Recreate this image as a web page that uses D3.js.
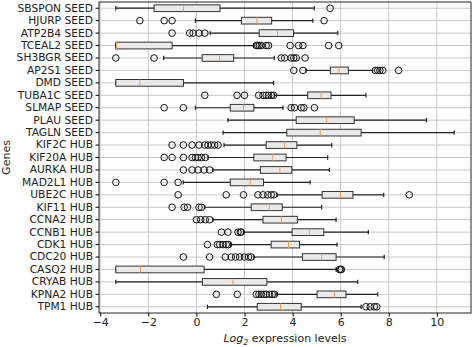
<!DOCTYPE html>
<html>
<head>
<meta charset="utf-8">
<script src="https://cdn.jsdelivr.net/npm/d3@7"></script>
<style>
  body { margin: 0; background: #fff; }
  svg text { font-family: "DejaVu Sans", sans-serif; fill: #222; }
</style>
</head>
<body>
<script>
var w = 474;
var h = 347;
var plotL = 99, plotR = 471, plotT = 2, plotB = 313;

var genes = ["SBSPON SEED", "HJURP SEED", "ATP2B4 SEED", "TCEAL2 SEED", "SH3BGR SEED",
  "AP2S1 SEED", "DMD SEED", "TUBA1C SEED", "SLMAP SEED", "PLAU SEED", "TAGLN SEED",
  "KIF2C HUB", "KIF20A HUB", "AURKA HUB", "MAD2L1 HUB", "UBE2C HUB", "KIF11 HUB",
  "CCNA2 HUB", "CCNB1 HUB", "CDK1 HUB", "CDC20 HUB", "CASQ2 HUB", "CRYAB HUB",
  "KPNA2 HUB", "TPM1 HUB"];

// box stats per gene (log2 expression)
var whiskLo = [-3.35, -0.04, 0.57, -3.35, -1.36, 4.56, -3.35, 3.25, -0.04, 1.31, 1.11,
  1.15, 0.48, 0.69, -0.55, 3.36, 0.35, 0.69, 1.96, 1.42, 2.39, -3.35, -3.35, 3.32, 0.46];
var q1 = [-1.76, 1.87, 2.61, -3.35, 0.24, 5.57, -3.35, 4.63, 1.41, 4.15, 3.76,
  2.90, 2.39, 2.66, 1.41, 5.23, 2.28, 2.77, 3.98, 3.11, 4.41, -3.35, 0.25, 5.02, 2.53];
var medians = [-0.54, 2.52, 3.37, -3.32, 0.97, 5.93, -2.35, 5.19, 1.96, 5.42, 5.15,
  3.67, 3.18, 3.47, 2.24, 5.99, 3.03, 3.53, 4.70, 3.83, 5.21, -2.32, 1.52, 5.74, 3.50];
var q3 = [0.98, 3.13, 4.04, -1.01, 1.55, 6.32, -0.54, 5.60, 2.39, 6.56, 6.85,
  4.18, 3.73, 3.97, 2.79, 6.51, 3.57, 4.20, 5.30, 4.29, 5.81, 0.32, 2.93, 6.22, 4.36];
var whiskHi = [4.90, 4.84, 5.88, 2.38, 3.24, 7.33, 3.21, 7.05, 3.60, 9.57, 10.72,
  5.63, 5.46, 5.53, 4.73, 7.79, 5.21, 5.81, 7.15, 5.85, 7.81, 5.81, 6.71, 7.54, 6.85];
var fliers = [
  [5.56],
  [-2.35, -1.34, -1.01, 5.31],
  [-1.01, -0.28, -0.14, 0.11, 0.35],
  [2.49, 2.55, 2.62, 2.70, 2.90, 3.00, 3.90, 4.25, 4.43, 5.50, 5.92],
  [-3.35, -1.76, 3.53, 3.67, 3.94, 4.05, 4.15, 4.52],
  [4.05, 4.43, 7.44, 7.54, 7.63, 7.75, 8.41],
  [],
  [0.35, 1.69, 2.00, 2.59, 2.77, 2.90, 3.00, 3.11, 3.21],
  [-1.34, -0.54, 3.94, 4.08, 4.36, 4.47, 4.91],
  [],
  [],
  [-1.01, -0.54, -0.18, 0.11, 0.35, 0.48, 0.62, 0.76, 0.90],
  [-1.34, -1.01, -0.54, -0.18, -0.04, 0.07, 0.21, 0.37],
  [-0.54, -0.18, 0.07, 0.32, 0.55],
  [-3.35, -1.34, -0.76],
  [-0.76, 1.24, 1.96, 2.56, 2.77, 2.97, 3.11, 3.22, 8.85],
  [-1.01, -0.51, -0.37, 0.11, 0.21],
  [0.00, 0.18, 0.37, 0.55],
  [1.04, 1.31, 1.73, 1.83, 1.87],
  [0.46, 0.87, 0.97, 1.11, 1.24, 1.34],
  [-0.54, 0.55, 1.20, 1.45, 1.63, 1.80, 2.00, 2.17, 2.28],
  [5.95, 6.00, 6.03],
  [],
  [0.83, 1.70, 2.49, 2.60, 2.70, 2.80, 2.90, 3.04, 3.15, 3.25],
  [7.05, 7.23, 7.40, 7.50]
];
var xTicks = [-4, -2, 0, 2, 4, 6, 8, 10];

var rows = genes.map(function (g, i) {
  return { gene: g, lo: whiskLo[i], q1: q1[i], med: medians[i], q3: q3[i], hi: whiskHi[i], out: fliers[i] };
});

var svg = d3.select("body").append("svg")
  .attr("width", w)
  .attr("height", h);

var x = d3.scaleLinear().domain([-4.05, 11.42]).range([plotL, plotR]);
var y = d3.scaleBand().domain(genes).range([plotT, plotB]).padding(0);
var bw = y.bandwidth();
var boxH = bw * 0.54;

// grid
svg.append("g").selectAll("line")
  .data(xTicks)
  .join("line")
  .attr("x1", function (d) { return x(d); })
  .attr("x2", function (d) { return x(d); })
  .attr("y1", plotT).attr("y2", plotB)
  .attr("stroke", "#c8c8c8").attr("stroke-width", 1);
svg.append("g").selectAll("line")
  .data(genes)
  .join("line")
  .attr("x1", plotL).attr("x2", plotR)
  .attr("y1", function (d) { return y(d) + bw / 2; })
  .attr("y2", function (d) { return y(d) + bw / 2; })
  .attr("stroke", "#c8c8c8").attr("stroke-width", 1);

// boxes
var g = svg.append("g").selectAll("g")
  .data(rows)
  .join("g")
  .attr("transform", function (d) { return "translate(0," + (y(d.gene) + bw / 2) + ")"; });

g.append("line")
  .attr("x1", function (d) { return x(d.lo); })
  .attr("x2", function (d) { return x(d.q1); })
  .attr("stroke", "#222").attr("stroke-width", 1.2);
g.append("line")
  .attr("x1", function (d) { return x(d.q3); })
  .attr("x2", function (d) { return x(d.hi); })
  .attr("stroke", "#222").attr("stroke-width", 1.2);
// caps
g.selectAll("line.cap")
  .data(function (d) { return [d.lo, d.hi]; })
  .join("line")
  .attr("class", "cap")
  .attr("x1", function (d) { return x(d); })
  .attr("x2", function (d) { return x(d); })
  .attr("y1", -boxH / 4 - 0.5).attr("y2", boxH / 4 + 0.5)
  .attr("stroke", "#222").attr("stroke-width", 1.2);
g.append("rect")
  .attr("x", function (d) { return x(d.q1); })
  .attr("width", function (d) { return Math.max(x(d.q3) - x(d.q1), 0.5); })
  .attr("y", -boxH / 2)
  .attr("height", boxH)
  .attr("fill", "#e9e9e9")
  .attr("stroke", "#333").attr("stroke-width", 1);
g.append("line")
  .attr("x1", function (d) { return x(d.med); })
  .attr("x2", function (d) { return x(d.med); })
  .attr("y1", -boxH / 2).attr("y2", boxH / 2)
  .attr("stroke", "#f09a50").attr("stroke-width", 1);
g.selectAll("circle")
  .data(function (d) { return d.out; })
  .join("circle")
  .attr("cx", function (d) { return x(d); })
  .attr("cy", 0)
  .attr("r", 3.3)
  .attr("fill", "none")
  .attr("stroke", "#111").attr("stroke-width", 1);

// frame
svg.append("rect")
  .attr("x", plotL).attr("y", plotT)
  .attr("width", plotR - plotL).attr("height", plotB - plotT)
  .attr("fill", "none").attr("stroke", "#222").attr("stroke-width", 1);

// axes
var xAxis = svg.append("g")
  .attr("transform", "translate(0," + plotB + ")")
  .call(d3.axisBottom(x).tickValues(xTicks).tickSize(3.5).tickPadding(2)
    .tickFormat(function (d) { return d < 0 ? "\u2212" + Math.abs(d) : d; }));
xAxis.select(".domain").remove();
xAxis.selectAll("text").attr("font-size", 11).attr("fill", "#222");

var yAxis = svg.append("g")
  .attr("transform", "translate(" + plotL + ",0)")
  .call(d3.axisLeft(y).tickSize(3.5).tickPadding(2.5));
yAxis.select(".domain").remove();
yAxis.selectAll("text").attr("font-size", 10.7).attr("fill", "#222");

// labels
var xl = svg.append("text")
  .attr("x", (plotL + plotR) / 2)
  .attr("y", 342)
  .attr("text-anchor", "middle")
  .attr("font-size", 11);
xl.append("tspan").attr("font-style", "italic").text("Log");
xl.append("tspan").attr("font-style", "italic").attr("font-size", 7.8).attr("dy", 2.5).text("2");
xl.append("tspan").attr("dy", -2.5).text(" expression levels");

svg.append("text")
  .attr("transform", "translate(10," + ((plotT + plotB) / 2) + ") rotate(-90)")
  .attr("text-anchor", "middle")
  .attr("font-size", 11)
  .text("Genes");
</script>
</body>
</html>
